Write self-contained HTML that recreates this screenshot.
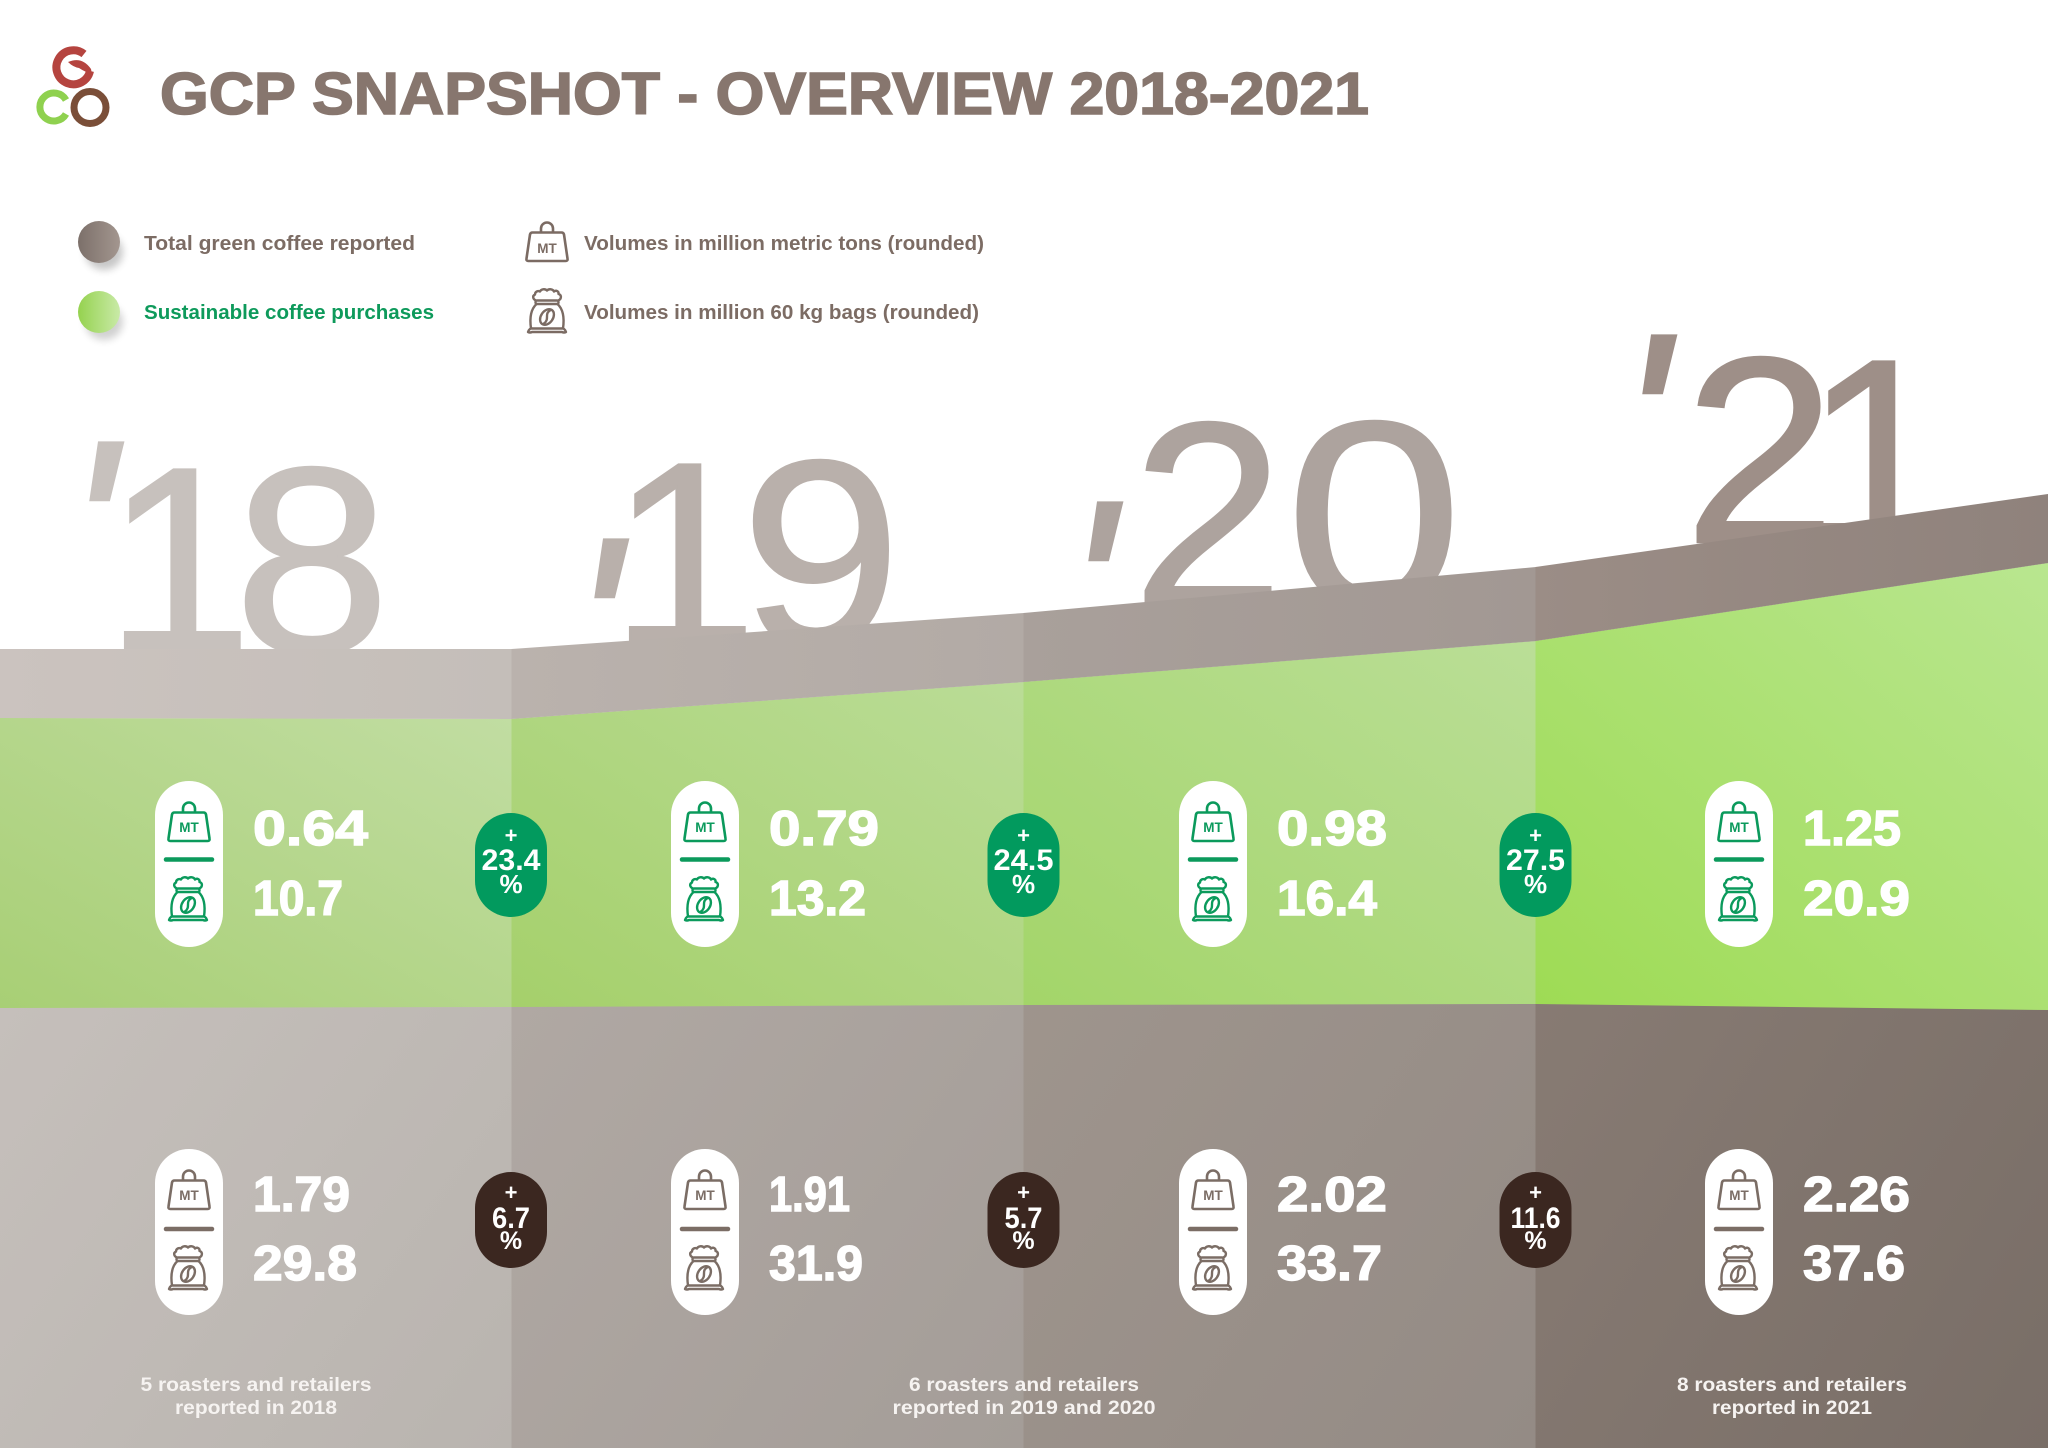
<!DOCTYPE html>
<html><head><meta charset="utf-8"><style>
html,body{margin:0;padding:0;background:#fff;}
svg{display:block;}
text{font-family:"Liberation Sans",sans-serif;}
</style></head><body>
<svg width="2048" height="1448" viewBox="0 0 2048 1448" xmlns="http://www.w3.org/2000/svg">
<defs>
<linearGradient id="lg1" x1="0" y1="0" x2="1" y2="1"><stop offset="0" stop-color="#c8c2be"/><stop offset="1" stop-color="#b9b4af"/></linearGradient>
<linearGradient id="lg2" x1="0" y1="0" x2="1" y2="1"><stop offset="0" stop-color="#b3aba6"/><stop offset="1" stop-color="#a49d98"/></linearGradient>
<linearGradient id="lg3" x1="0" y1="0" x2="1" y2="1"><stop offset="0" stop-color="#a1978f"/><stop offset="1" stop-color="#948b85"/></linearGradient>
<linearGradient id="lg4" x1="0" y1="0" x2="1" y2="1"><stop offset="0" stop-color="#8c7f77"/><stop offset="1" stop-color="#796e67"/></linearGradient>
<linearGradient id="gr1" x1="0" y1="1" x2="1" y2="0"><stop offset="0" stop-color="#a8cf75"/><stop offset="1" stop-color="#c1dda2"/></linearGradient>
<linearGradient id="gr2" x1="0" y1="1" x2="1" y2="0"><stop offset="0" stop-color="#a5d06b"/><stop offset="1" stop-color="#badc97"/></linearGradient>
<linearGradient id="gr3" x1="0" y1="1" x2="1" y2="0"><stop offset="0" stop-color="#a3d569"/><stop offset="1" stop-color="#bade97"/></linearGradient>
<linearGradient id="gr4" x1="0" y1="1" x2="1" y2="0"><stop offset="0" stop-color="#9edb54"/><stop offset="1" stop-color="#b9e690"/></linearGradient>
<linearGradient id="ug1" x1="0" y1="0" x2="1" y2="0"><stop offset="0" stop-color="#cbc3bf"/><stop offset="1" stop-color="#c4beb9"/></linearGradient>
<linearGradient id="ug2" x1="0" y1="0" x2="1" y2="0"><stop offset="0" stop-color="#bab2ad"/><stop offset="1" stop-color="#b2aaa5"/></linearGradient>
<linearGradient id="ug3" x1="0" y1="0" x2="1" y2="0"><stop offset="0" stop-color="#a9a09b"/><stop offset="1" stop-color="#a29893"/></linearGradient>
<linearGradient id="ug4" x1="0" y1="0" x2="1" y2="0"><stop offset="0" stop-color="#9b8d86"/><stop offset="1" stop-color="#8f827c"/></linearGradient>
<linearGradient id="legGrey" x1="0" y1="0" x2="1" y2="0"><stop offset="0" stop-color="#7c706a"/><stop offset="1" stop-color="#a3968f"/></linearGradient>
<linearGradient id="legGreen" x1="0" y1="0" x2="1" y2="0"><stop offset="0" stop-color="#95d24f"/><stop offset="1" stop-color="#c9eaa7"/></linearGradient>
<linearGradient id="stem" x1="0" y1="0" x2="0" y2="1"><stop offset="0" stop-color="#8fd14f"/><stop offset="1" stop-color="#7a4e38"/></linearGradient>
<filter id="blur" x="-50%" y="-50%" width="200%" height="200%"><feGaussianBlur stdDeviation="4"/></filter>
<symbol id="mt" viewBox="0 0 44 42" overflow="visible">
<path d="M16,11.5 V7.5 a6,6 0 0 1 12,0 V11.5" fill="none" stroke="currentColor" stroke-width="2.6"/>
<path d="M7.5,11.5 H36.5 Q38.5,11.5 39,13.5 L42.5,37.5 Q43,40 40.5,40 H3.5 Q1,40 1.5,37.5 L5,13.5 Q5.5,11.5 7.5,11.5 Z" fill="none" stroke="currentColor" stroke-width="2.6" stroke-linejoin="round"/>
</symbol>
<symbol id="bag" viewBox="0 0 40 46" overflow="visible">
<g fill="none" stroke="currentColor" stroke-width="2.4" stroke-linejoin="round" stroke-linecap="round">
<path d="M9,12.5 C6,11.5 5,8 8,6.5 C8,3.5 11,2.5 13,3.5 C14,1 18,0.5 20,2.5 C22,0.5 26,1 27,3.5 C29,2 32,3 31.5,6 C35,7 34.5,11.5 31,12.5"/>
<rect x="8.5" y="12.5" width="23" height="3.5" rx="1.5"/>
<path d="M9.5,16 C4,21 2.5,30 4,40.5 M30.5,16 C36,21 37.5,30 36,40.5"/>
<path d="M1,44 C2,41 4,40 5,40.5 H35 C36,40 38,41 39,44 C37,45 36,44.5 35,44 H5 C4,44.5 3,45 1,44 Z"/>
<ellipse cx="20" cy="29" rx="6" ry="8.5" transform="rotate(35 20 29)"/>
<path d="M23,22.5 C17,26 23,31 17,35.5"/>
</g>
</symbol>
</defs>

<rect width="2048" height="1448" fill="#fff"/>

<!-- Logo -->
<path d="M84,54 A17,17 0 1 0 90,71" fill="none" stroke="#b5443f" stroke-width="8"/>
<path d="M91,69 Q82,56 68,62 Q73,67 79,68 Q85,72 92,74 Z" fill="#b5443f"/>
<path d="M66,100 A14,14 0 1 0 66,114" fill="none" stroke="#8fd14f" stroke-width="7"/>
<circle cx="90" cy="107.5" r="16" fill="none" stroke="#7a4e38" stroke-width="7"/>
<line x1="71" y1="98" x2="71" y2="135" stroke="url(#stem)" stroke-width="7"/>

<!-- Title -->
<text x="160" y="114" font-size="59" font-weight="700" fill="#87766e" stroke="#87766e" stroke-width="1.6" textLength="1209" lengthAdjust="spacingAndGlyphs">GCP SNAPSHOT - OVERVIEW 2018-2021</text>

<!-- Legend -->
<ellipse cx="104" cy="252" rx="19" ry="18" fill="#000" opacity="0.22" filter="url(#blur)"/>
<circle cx="99" cy="242" r="21" fill="url(#legGrey)"/>
<ellipse cx="104" cy="322" rx="19" ry="18" fill="#000" opacity="0.18" filter="url(#blur)"/>
<circle cx="99" cy="312" r="21" fill="url(#legGreen)"/>
<text x="144" y="250" font-size="20" font-weight="700" fill="#7c6c64" textLength="271" lengthAdjust="spacingAndGlyphs">Total green coffee reported</text>
<text x="144" y="319" font-size="20" font-weight="700" fill="#0e9a5b" textLength="290" lengthAdjust="spacingAndGlyphs">Sustainable coffee purchases</text>
<use href="#mt" x="525" y="221" width="44" height="42" style="color:#7b6b63"/>
<text x="547" y="253" font-size="13.5" font-weight="700" text-anchor="middle" fill="#7b6b63">MT</text>
<use href="#bag" x="527" y="288" width="40" height="46" style="color:#7b6b63"/>
<text x="584" y="250" font-size="20" font-weight="700" fill="#7c6c64" textLength="400" lengthAdjust="spacingAndGlyphs">Volumes in million metric tons (rounded)</text>
<text x="584" y="319" font-size="20" font-weight="700" fill="#7c6c64" textLength="395" lengthAdjust="spacingAndGlyphs">Volumes in million 60 kg bags (rounded)</text>

<!-- Big year numerals -->
<g font-size="265" fill="#c7c1bd" stroke="#c7c1bd" stroke-width="2.5">
<text transform="translate(75.5,625) skewX(-11)" text-anchor="middle">'</text>
<text transform="translate(105,652)">1</text>
<text transform="translate(312,652) scale(1.06,1)" text-anchor="middle">8</text>
</g>
<g font-size="265" fill="#b9b0ab" stroke="#b9b0ab" stroke-width="2.5">
<text transform="translate(580.5,722) skewX(-11)" text-anchor="middle">'</text>
<text transform="translate(610,647)">1</text>
<text transform="translate(821,645) scale(1.09,1)" text-anchor="middle">9</text>
</g>
<g font-size="265" fill="#ada39e" stroke="#ada39e" stroke-width="2.5">
<text transform="translate(1074.5,685) skewX(-11)" text-anchor="middle">'</text>
<text transform="translate(1208,607) scale(1.03,1)" text-anchor="middle">2</text>
<text transform="translate(1374,606) scale(1.2,1)" text-anchor="middle">0</text>
</g>
<g font-size="265" fill="#9e8f88" stroke="#9e8f88" stroke-width="2.5">
<text transform="translate(1628.5,518) skewX(-11)" text-anchor="middle">'</text>
<text transform="translate(1760,542) scale(1.03,1)" text-anchor="middle">2</text>
<text transform="translate(1804,544)">1</text>
</g>

<!-- Bands: lower grey -->
<polygon points="0,718 512,719 512,1448 0,1448" fill="url(#lg1)"/>
<polygon points="511.5,719 1024,682 1024,1448 511.5,1448" fill="url(#lg2)"/>
<polygon points="1023.5,682 1536,641 1536,1448 1023.5,1448" fill="url(#lg3)"/>
<polygon points="1535.5,641 2048,563 2048,1448 1535.5,1448" fill="url(#lg4)"/>
<!-- green -->
<polygon points="0,718 512,719 512,1007 0,1008" fill="url(#gr1)"/>
<polygon points="511.5,719 1024,682 1024,1005 511.5,1007" fill="url(#gr2)"/>
<polygon points="1023.5,682 1536,641 1536,1004 1023.5,1005" fill="url(#gr3)"/>
<polygon points="1535.5,641 2048,563 2048,1010 1535.5,1004" fill="url(#gr4)"/>
<!-- upper grey -->
<polygon points="0,649 512,649 512,719 0,718" fill="url(#ug1)"/>
<polygon points="511.5,649 1024,613 1024,682 511.5,719" fill="url(#ug2)"/>
<polygon points="1023.5,613 1536,567 1536,641 1023.5,682" fill="url(#ug3)"/>
<polygon points="1535.5,567 2048,494 2048,563 1535.5,641" fill="url(#ug4)"/>

<!-- Upper pills (green) -->
<g>
<rect x="155" y="781" width="68" height="166" rx="34" fill="#fff"/>
<use href="#mt" x="167" y="801" width="44" height="42" style="color:#0b9a5c"/>
<text x="189" y="832" font-size="13.5" font-weight="700" text-anchor="middle" fill="#0b9a5c">MT</text>
<line x1="166" y1="859.5" x2="212" y2="859.5" stroke="#0b9a5c" stroke-width="4.5" stroke-linecap="round"/>
<use href="#bag" x="168" y="876" width="40" height="46" style="color:#0b9a5c"/>

<rect x="671" y="781" width="68" height="166" rx="34" fill="#fff"/>
<use href="#mt" x="683" y="801" width="44" height="42" style="color:#0b9a5c"/>
<text x="705" y="832" font-size="13.5" font-weight="700" text-anchor="middle" fill="#0b9a5c">MT</text>
<line x1="682" y1="859.5" x2="728" y2="859.5" stroke="#0b9a5c" stroke-width="4.5" stroke-linecap="round"/>
<use href="#bag" x="684" y="876" width="40" height="46" style="color:#0b9a5c"/>

<rect x="1179" y="781" width="68" height="166" rx="34" fill="#fff"/>
<use href="#mt" x="1191" y="801" width="44" height="42" style="color:#0b9a5c"/>
<text x="1213" y="832" font-size="13.5" font-weight="700" text-anchor="middle" fill="#0b9a5c">MT</text>
<line x1="1190" y1="859.5" x2="1236" y2="859.5" stroke="#0b9a5c" stroke-width="4.5" stroke-linecap="round"/>
<use href="#bag" x="1192" y="876" width="40" height="46" style="color:#0b9a5c"/>

<rect x="1705" y="781" width="68" height="166" rx="34" fill="#fff"/>
<use href="#mt" x="1717" y="801" width="44" height="42" style="color:#0b9a5c"/>
<text x="1739" y="832" font-size="13.5" font-weight="700" text-anchor="middle" fill="#0b9a5c">MT</text>
<line x1="1716" y1="859.5" x2="1762" y2="859.5" stroke="#0b9a5c" stroke-width="4.5" stroke-linecap="round"/>
<use href="#bag" x="1718" y="876" width="40" height="46" style="color:#0b9a5c"/>
</g>

<!-- Upper numbers -->
<g font-size="49" font-weight="700" fill="#ffffff" stroke="#ffffff" stroke-width="1.4">
<text x="253" y="845" textLength="115" lengthAdjust="spacingAndGlyphs">0.64</text>
<text x="253" y="915" textLength="90" lengthAdjust="spacingAndGlyphs">10.7</text>
<text x="769" y="845" textLength="110" lengthAdjust="spacingAndGlyphs">0.79</text>
<text x="769" y="915" textLength="97" lengthAdjust="spacingAndGlyphs">13.2</text>
<text x="1277" y="845" textLength="110" lengthAdjust="spacingAndGlyphs">0.98</text>
<text x="1277" y="915" textLength="100" lengthAdjust="spacingAndGlyphs">16.4</text>
<text x="1803" y="845" textLength="98" lengthAdjust="spacingAndGlyphs">1.25</text>
<text x="1803" y="915" textLength="107" lengthAdjust="spacingAndGlyphs">20.9</text>
</g>

<!-- Green pct pills -->
<g>
<rect x="475" y="813" width="72" height="104" rx="36" fill="#029a5e"/>
<rect x="987.5" y="813" width="72" height="104" rx="36" fill="#029a5e"/>
<rect x="1499.5" y="813" width="72" height="104" rx="36" fill="#029a5e"/>
</g>
<g font-weight="700" fill="#fff" text-anchor="middle">
<text x="511" y="843" font-size="22">+</text>
<text x="511" y="870" font-size="30" textLength="59" lengthAdjust="spacingAndGlyphs">23.4</text>
<text x="511" y="893" font-size="26">%</text>
<text x="1023.5" y="843" font-size="22">+</text>
<text x="1023.5" y="870" font-size="30" textLength="60" lengthAdjust="spacingAndGlyphs">24.5</text>
<text x="1023.5" y="893" font-size="26">%</text>
<text x="1535.5" y="843" font-size="22">+</text>
<text x="1535.5" y="870" font-size="30" textLength="59" lengthAdjust="spacingAndGlyphs">27.5</text>
<text x="1535.5" y="893" font-size="26">%</text>
</g>

<!-- Lower pills (grey) -->
<g>
<rect x="155" y="1149" width="68" height="166" rx="34" fill="#fff"/>
<use href="#mt" x="167" y="1169" width="44" height="42" style="color:#7b6d65"/>
<text x="189" y="1200" font-size="13.5" font-weight="700" text-anchor="middle" fill="#7b6d65">MT</text>
<line x1="166" y1="1229" x2="212" y2="1229" stroke="#7b6d65" stroke-width="4.5" stroke-linecap="round"/>
<use href="#bag" x="168" y="1245" width="40" height="46" style="color:#7b6d65"/>

<rect x="671" y="1149" width="68" height="166" rx="34" fill="#fff"/>
<use href="#mt" x="683" y="1169" width="44" height="42" style="color:#7b6d65"/>
<text x="705" y="1200" font-size="13.5" font-weight="700" text-anchor="middle" fill="#7b6d65">MT</text>
<line x1="682" y1="1229" x2="728" y2="1229" stroke="#7b6d65" stroke-width="4.5" stroke-linecap="round"/>
<use href="#bag" x="684" y="1245" width="40" height="46" style="color:#7b6d65"/>

<rect x="1179" y="1149" width="68" height="166" rx="34" fill="#fff"/>
<use href="#mt" x="1191" y="1169" width="44" height="42" style="color:#7b6d65"/>
<text x="1213" y="1200" font-size="13.5" font-weight="700" text-anchor="middle" fill="#7b6d65">MT</text>
<line x1="1190" y1="1229" x2="1236" y2="1229" stroke="#7b6d65" stroke-width="4.5" stroke-linecap="round"/>
<use href="#bag" x="1192" y="1245" width="40" height="46" style="color:#7b6d65"/>

<rect x="1705" y="1149" width="68" height="166" rx="34" fill="#fff"/>
<use href="#mt" x="1717" y="1169" width="44" height="42" style="color:#7b6d65"/>
<text x="1739" y="1200" font-size="13.5" font-weight="700" text-anchor="middle" fill="#7b6d65">MT</text>
<line x1="1716" y1="1229" x2="1762" y2="1229" stroke="#7b6d65" stroke-width="4.5" stroke-linecap="round"/>
<use href="#bag" x="1718" y="1245" width="40" height="46" style="color:#7b6d65"/>
</g>

<!-- Lower numbers -->
<g font-size="49" font-weight="700" fill="#ffffff" stroke="#ffffff" stroke-width="1.4">
<text x="253" y="1211" textLength="97" lengthAdjust="spacingAndGlyphs">1.79</text>
<text x="253" y="1280" textLength="104" lengthAdjust="spacingAndGlyphs">29.8</text>
<text x="769" y="1211" textLength="81" lengthAdjust="spacingAndGlyphs">1.91</text>
<text x="769" y="1280" textLength="94" lengthAdjust="spacingAndGlyphs">31.9</text>
<text x="1277" y="1211" textLength="110" lengthAdjust="spacingAndGlyphs">2.02</text>
<text x="1277" y="1280" textLength="105" lengthAdjust="spacingAndGlyphs">33.7</text>
<text x="1803" y="1211" textLength="107" lengthAdjust="spacingAndGlyphs">2.26</text>
<text x="1803" y="1280" textLength="102" lengthAdjust="spacingAndGlyphs">37.6</text>
</g>

<!-- Dark pct pills -->
<g>
<rect x="475" y="1172" width="72" height="96" rx="36" fill="#3b2720"/>
<rect x="987.5" y="1172" width="72" height="96" rx="36" fill="#3b2720"/>
<rect x="1499.5" y="1172" width="72" height="96" rx="36" fill="#3b2720"/>
</g>
<g font-weight="700" fill="#fff" text-anchor="middle">
<text x="511" y="1200" font-size="22">+</text>
<text x="511" y="1228" font-size="30" textLength="38" lengthAdjust="spacingAndGlyphs">6.7</text>
<text x="511" y="1249" font-size="25">%</text>
<text x="1023.5" y="1200" font-size="22">+</text>
<text x="1023.5" y="1228" font-size="30" textLength="38" lengthAdjust="spacingAndGlyphs">5.7</text>
<text x="1023.5" y="1249" font-size="25">%</text>
<text x="1535.5" y="1200" font-size="22">+</text>
<text x="1535.5" y="1228" font-size="30" textLength="50" lengthAdjust="spacingAndGlyphs">11.6</text>
<text x="1535.5" y="1249" font-size="25">%</text>
</g>

<!-- Bottom captions -->
<g font-size="19" font-weight="700" fill="#f6f3f1" text-anchor="middle">
<text x="256" y="1391" textLength="231" lengthAdjust="spacingAndGlyphs">5 roasters and retailers</text>
<text x="256" y="1414" textLength="162" lengthAdjust="spacingAndGlyphs">reported in 2018</text>
<text x="1024" y="1391" textLength="230" lengthAdjust="spacingAndGlyphs">6 roasters and retailers</text>
<text x="1024" y="1414" textLength="263" lengthAdjust="spacingAndGlyphs">reported in 2019 and 2020</text>
<text x="1792" y="1391" textLength="230" lengthAdjust="spacingAndGlyphs">8 roasters and retailers</text>
<text x="1792" y="1414" textLength="160" lengthAdjust="spacingAndGlyphs">reported in 2021</text>
</g>
</svg>
</body></html>
